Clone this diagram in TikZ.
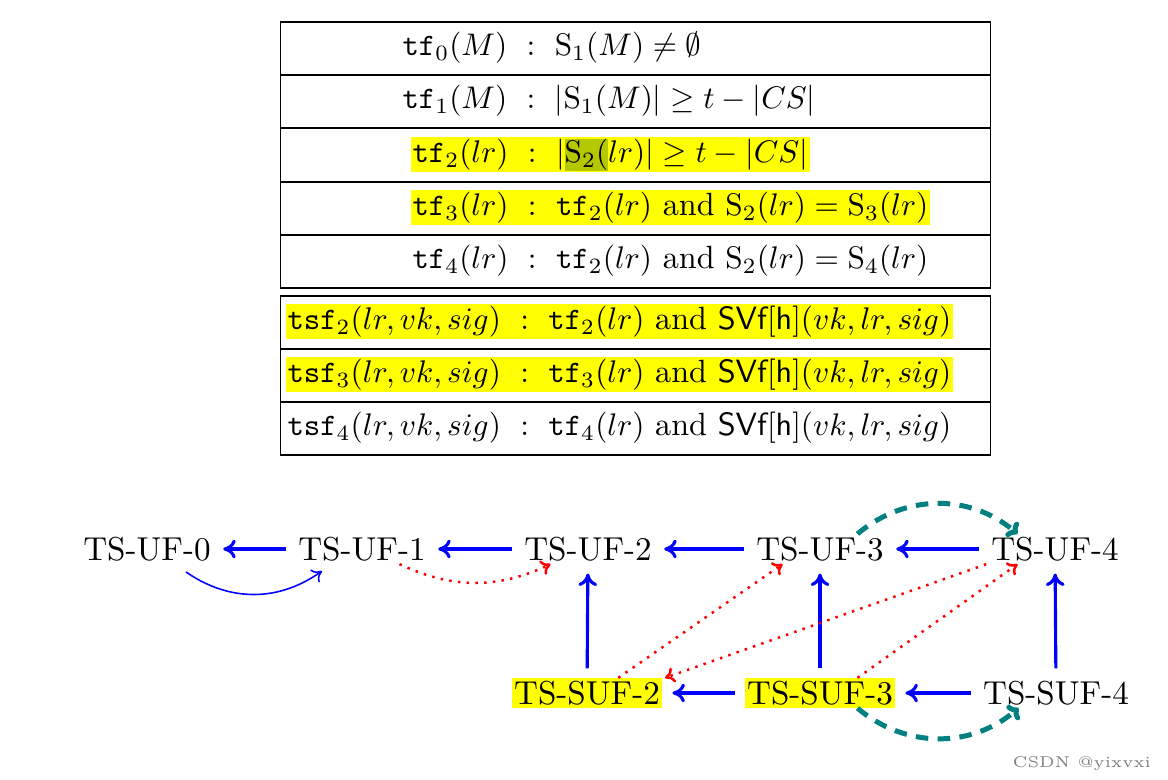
\documentclass[tikz,border=0pt]{standalone}
\usetikzlibrary{arrows.meta}
\definecolor{hl}{RGB}{255,255,0}
\definecolor{hld}{RGB}{181,200,0}
\definecolor{tealc}{RGB}{0,128,128}
\begin{document}
\begin{tikzpicture}[x=0.32pt,y=-0.32pt,
  every node/.style={font=\fontsize{10.6}{13}\selectfont},
  row/.style={draw,line width=0.5pt,minimum width=227.2pt,minimum height=17pt,inner sep=0},
  txt/.style={anchor=west,inner sep=0.6pt,font=\fontsize{10.3}{13}\selectfont},
  hi/.style={txt,fill=hl},
  gn/.style={inner sep=0.8pt},
  gh/.style={gn,fill=hl},
  ba/.style={->,>={To[length=4pt,width=6pt]},blue,line width=1pt,shorten >=3pt,shorten <=3pt},
  rd/.style={->,>={To[length=3pt,width=5pt]},red,dotted,line width=0.8pt},
  td/.style={->,>={To[length=3pt,width=6pt]},tealc,dashed,dash pattern=on 4pt off 3pt,line width=1.6pt}]
\useasboundingbox (0,0) rectangle (1168,780);
\foreach \y/\n in {48.5/r1,101.5/r2,155/r3,208.5/r4,261.5/r5,322.5/r6,375.5/r7,428.5/r8}
  \node[row] (\n) at (635.5,\y) {};
\node[txt] (t1) at (400,48) {$\mathtt{tf}_0(M)\ :\ \mathrm{S}_1(M)\neq\emptyset$};
\node[txt] (t2) at (400,101) {$\mathtt{tf}_1(M)\ :\ |\mathrm{S}_1(M)|\geq t-|CS|$};
\node[hi] (t3) at (410,155) {$\mathtt{tf}_2(lr)\ :\ |$\setlength{\fboxsep}{0pt}\colorbox{hld}{$\mathrm{S}_2($}$lr)|\geq t-|CS|$};
\node[hi] (t4) at (410,208) {$\mathtt{tf}_3(lr)\ :\ \mathtt{tf}_2(lr)$ and $\mathrm{S}_2(lr)=\mathrm{S}_3(lr)$};
\node[txt] (t5) at (410,261) {$\mathtt{tf}_4(lr)\ :\ \mathtt{tf}_2(lr)$ and $\mathrm{S}_2(lr)=\mathrm{S}_4(lr)$};
\node[hi] (t6) at (285,322) {$\mathtt{tsf}_2(lr,vk,sig)\ :\ \mathtt{tf}_2(lr)$ and $\textsf{SVf}[\textsf{h}](vk,lr,sig)$};
\node[hi] (t7) at (285,375) {$\mathtt{tsf}_3(lr,vk,sig)\ :\ \mathtt{tf}_3(lr)$ and $\textsf{SVf}[\textsf{h}](vk,lr,sig)$};
\node[txt] (t8) at (285,428) {$\mathtt{tsf}_4(lr,vk,sig)\ :\ \mathtt{tf}_4(lr)$ and $\textsf{SVf}[\textsf{h}](vk,lr,sig)$};
\node[gn] (u0) at (147,549) {TS-UF-0};
\node[gn] (u1) at (362,549) {TS-UF-1};
\node[gn] (u2) at (588,549) {TS-UF-2};
\node[gn] (u3) at (820,549) {TS-UF-3};
\node[gn] (u4) at (1055,549) {TS-UF-4};
\node[gh] (s2) at (587,693) {TS-SUF-2};
\node[gh] (s3) at (820,693) {TS-SUF-3};
\node[gn] (s4) at (1056,693) {TS-SUF-4};
\draw[ba] (u1) -- (u0);
\draw[ba] (u2) -- (u1);
\draw[ba] (u3) -- (u2);
\draw[ba] (u4) -- (u3);
\draw[ba] (s3) -- (s2);
\draw[ba] (s4) -- (s3);
\draw[ba] (s2) -- (u2);
\draw[ba] (s3) -- (u3);
\draw[ba] (s4) -- (u4);
\coordinate (a0) at (186,572);
\coordinate (a1) at (322,571);
\draw[->,>={To[length=3pt,width=5pt]},blue,line width=0.5pt] (a0) to[bend right=35] (a1);
\draw[rd] ([xshift=12pt]u1.south) to[bend right=25] ([xshift=-12pt]u2.south);
\draw[rd] ([xshift=10pt]s2.north) -- ([xshift=-12pt]u3.south);
\draw[rd] ([xshift=-22pt]u4.south) -- ([xshift=25pt]s2.north);
\draw[rd] ([xshift=12pt]s3.north) -- ([xshift=-12pt]u4.south);
\draw[td] ([xshift=12pt]u3.north) to[bend left=40] ([xshift=-12pt]u4.north);
\draw[td] ([xshift=12pt]s3.south) to[bend right=40] ([xshift=-12pt]s4.south);
\node[gray,font=\tiny,anchor=east] (wm) at (1162,764) {CSDN @yixvxi};
\end{tikzpicture}
\end{document}
